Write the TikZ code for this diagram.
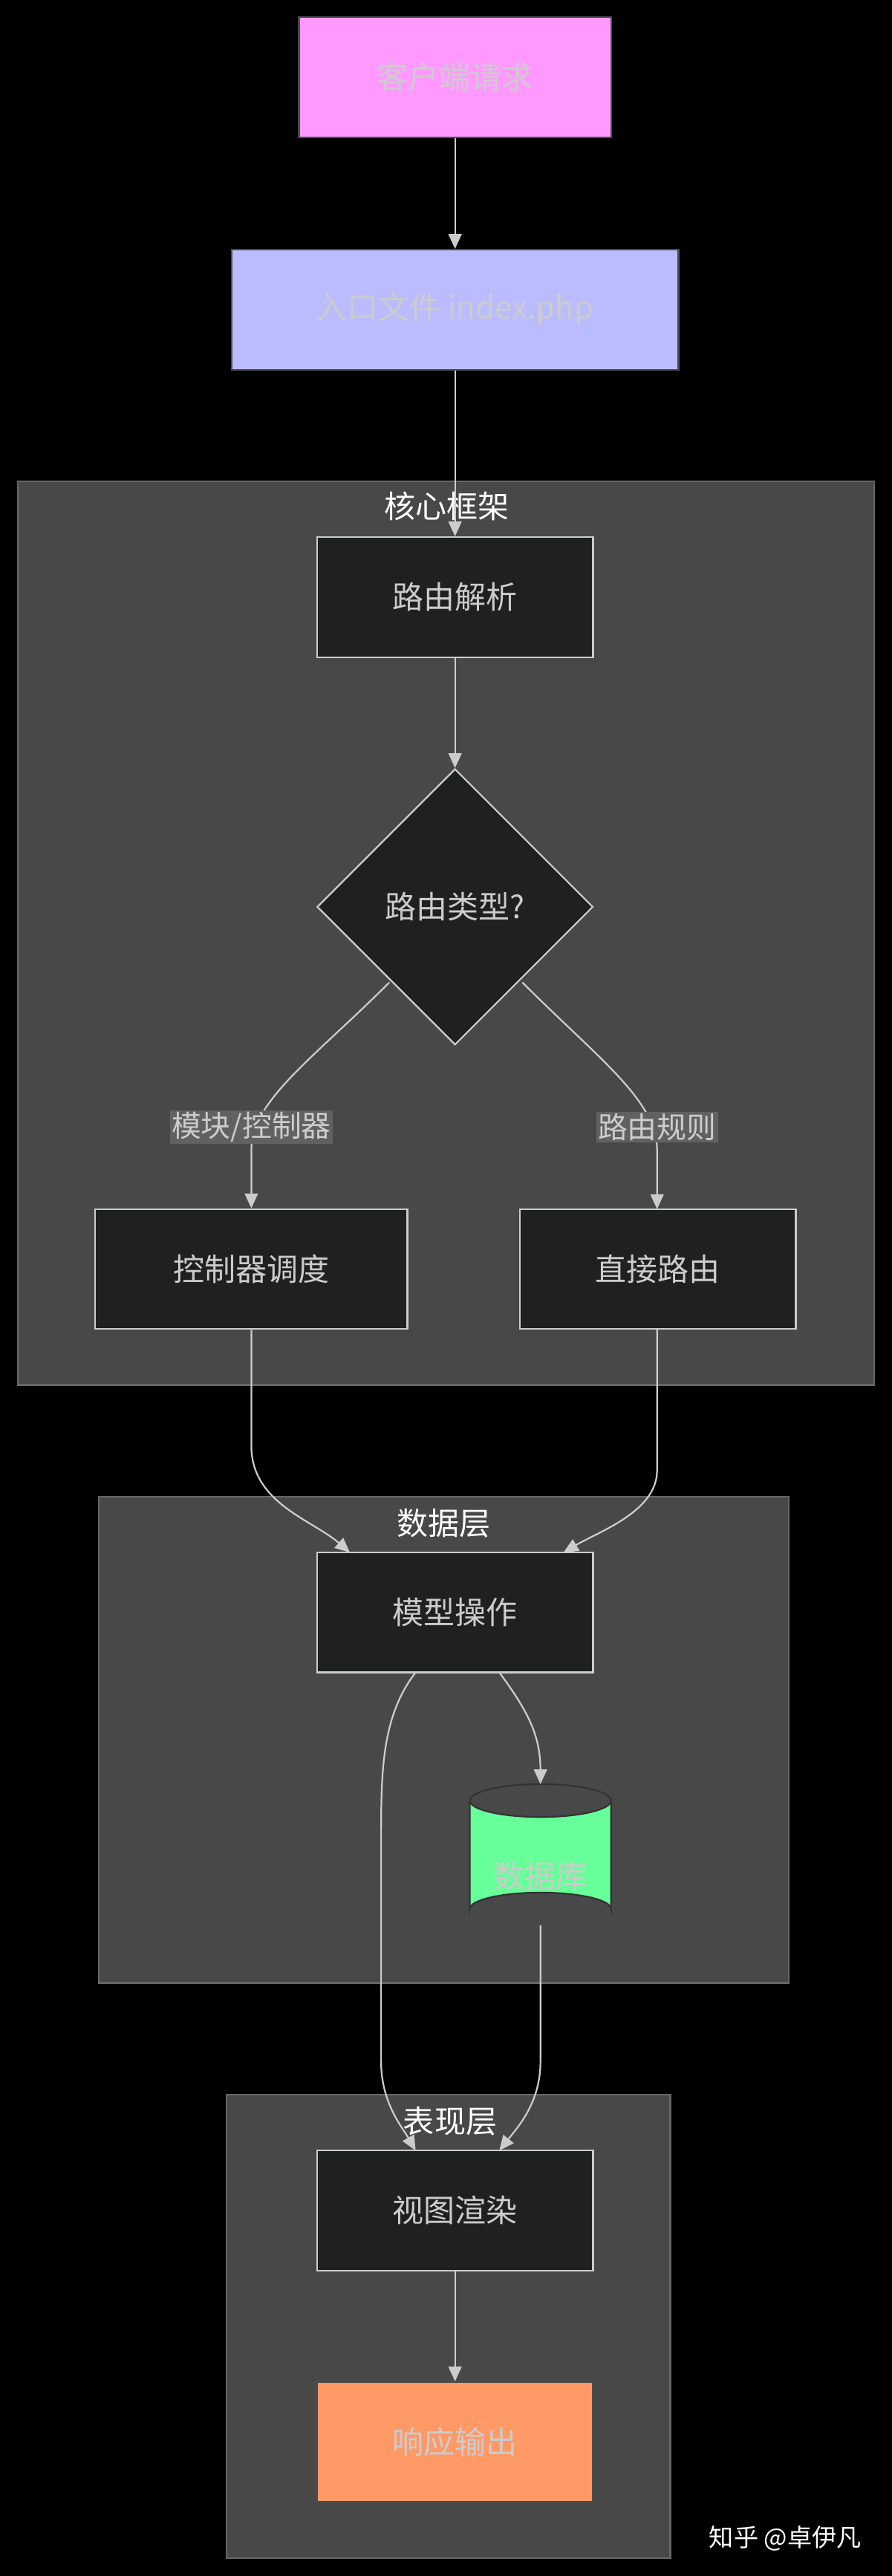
\documentclass[tikz,border=0pt]{standalone}
\usepackage{fontspec}
\setmainfont{Noto Sans CJK SC}
\usetikzlibrary{arrows.meta,shapes.geometric}
\definecolor{cl}{HTML}{484848}
\definecolor{clb}{HTML}{666666}
\definecolor{nd}{HTML}{1F2020}
\definecolor{ln}{HTML}{CCCCCC}
\tikzset{
 x=1pt,y=-1pt,
 box/.style={draw=ln,fill=nd,line width=1pt,minimum width=168pt,minimum height=73pt,text=ln,font=\fontsize{19}{22}\selectfont,inner sep=0pt},
 cbox/.style={draw=black!70,line width=1pt,minimum height=73pt,text=ln,font=\fontsize{19}{22}\selectfont,inner sep=0pt},
 clus/.style={draw=clb,fill=cl,line width=1pt},
 ctitle/.style={text=white,font=\fontsize{19}{22}\selectfont},
 arr/.style={draw=ln,line width=1pt,-{Triangle[length=9pt,width=8pt]}},
 elab/.style={fill=black!62,text=ln,font=\fontsize{18}{21}\selectfont,inner sep=1pt}
}
\begin{document}
\begin{tikzpicture}
\useasboundingbox[fill=black] (0,0) rectangle (543,1568);
% clusters
\draw[clus] (11,293) rectangle (532,843);
\draw[clus] (60,911) rectangle (480,1207);
\draw[clus] (138,1275) rectangle (408,1557);
\node[ctitle] (t1) at (272,308) {核心框架};
\node[ctitle] (t2) at (270,927) {数据层};
\node[ctitle] (t3) at (274,1291) {表现层};
% nodes
\node[cbox,fill={rgb,255:red,255;green,153;blue,255},minimum width=190pt] (a) at (277,47) {客户端请求};
\node[cbox,fill={rgb,255:red,187;green,187;blue,255},minimum width=272pt] (b) at (277,188.5) {入口文件 index.php};
\node[box] (r) at (277,363.5) {路由解析};
\node[diamond,draw=ln,fill=nd,line width=1pt,minimum width=168pt,minimum height=168pt,inner sep=0pt,text=ln,font=\fontsize{19}{22}\selectfont] (d) at (277,552) {路由类型?};
\node[box,minimum width=190pt] (c) at (153,772.5) {控制器调度};
\node[box] (e) at (400.5,772.5) {直接路由};
\node[box] (m) at (277,981.5) {模型操作};
\node[box] (v) at (277,1345.5) {视图渲染};
\node[cbox,fill={rgb,255:red,255;green,153;blue,102},minimum width=168pt] (o) at (277,1486.5) {响应输出};
% database cylinder
\coordinate (dbt) at (329,1086);
\coordinate (dbb) at (329,1172);
\fill[fill={rgb,255:red,102;green,255;blue,153}] (286,1096) -- (286,1162) arc[start angle=180,end angle=360,x radius=43,y radius=10] -- (372,1096) arc[start angle=0,end angle=180,x radius=43,y radius=10];
\draw[black!80,line width=1pt] (286,1096) -- (286,1162) arc[start angle=180,end angle=360,x radius=43,y radius=10] -- (372,1096);
\draw[black!80,line width=1pt] (329,1096) ellipse[x radius=43,y radius=10];
\node[text=ln,font=\fontsize{19}{22}\selectfont] (db) at (329,1142) {数据库};
% edges
\draw[arr] (a) -- (b);
\draw[arr] (b) -- (r);
\draw[arr] (r) -- (d);
\draw[arr] (237,598) .. controls (190,645) and (153,670) .. (153,700) -- (c.north);
\draw[arr] (318,598) .. controls (365,645) and (400,670) .. (400,700) -- (400,736);
\node[elab] (l1) at (153,686) {模块/控制器};
\node[elab] (l2) at (400,686) {路由规则};
\draw[arr] (c.south) -- (153,880) .. controls (153,915) and (190,925) .. (213,945);
\draw[arr] (400,809) -- (400,895) .. controls (400,920) and (365,932) .. (343,945);
\draw[arr] (253,1018) .. controls (232,1045) and (232,1080) .. (232,1120) -- (232,1255) .. controls (232,1280) and (245,1295) .. (253,1309);
\draw[arr] (304,1018) .. controls (320,1040) and (329,1055) .. (dbt);
\draw[arr] (dbb) -- (329,1255) .. controls (329,1280) and (315,1295) .. (304,1309);
\draw[arr] (v) -- (o);
\node[text=white,font=\fontsize{15}{18}\selectfont] (wm) at (478,1545) {知乎 @卓伊凡};
\end{tikzpicture}
\end{document}
